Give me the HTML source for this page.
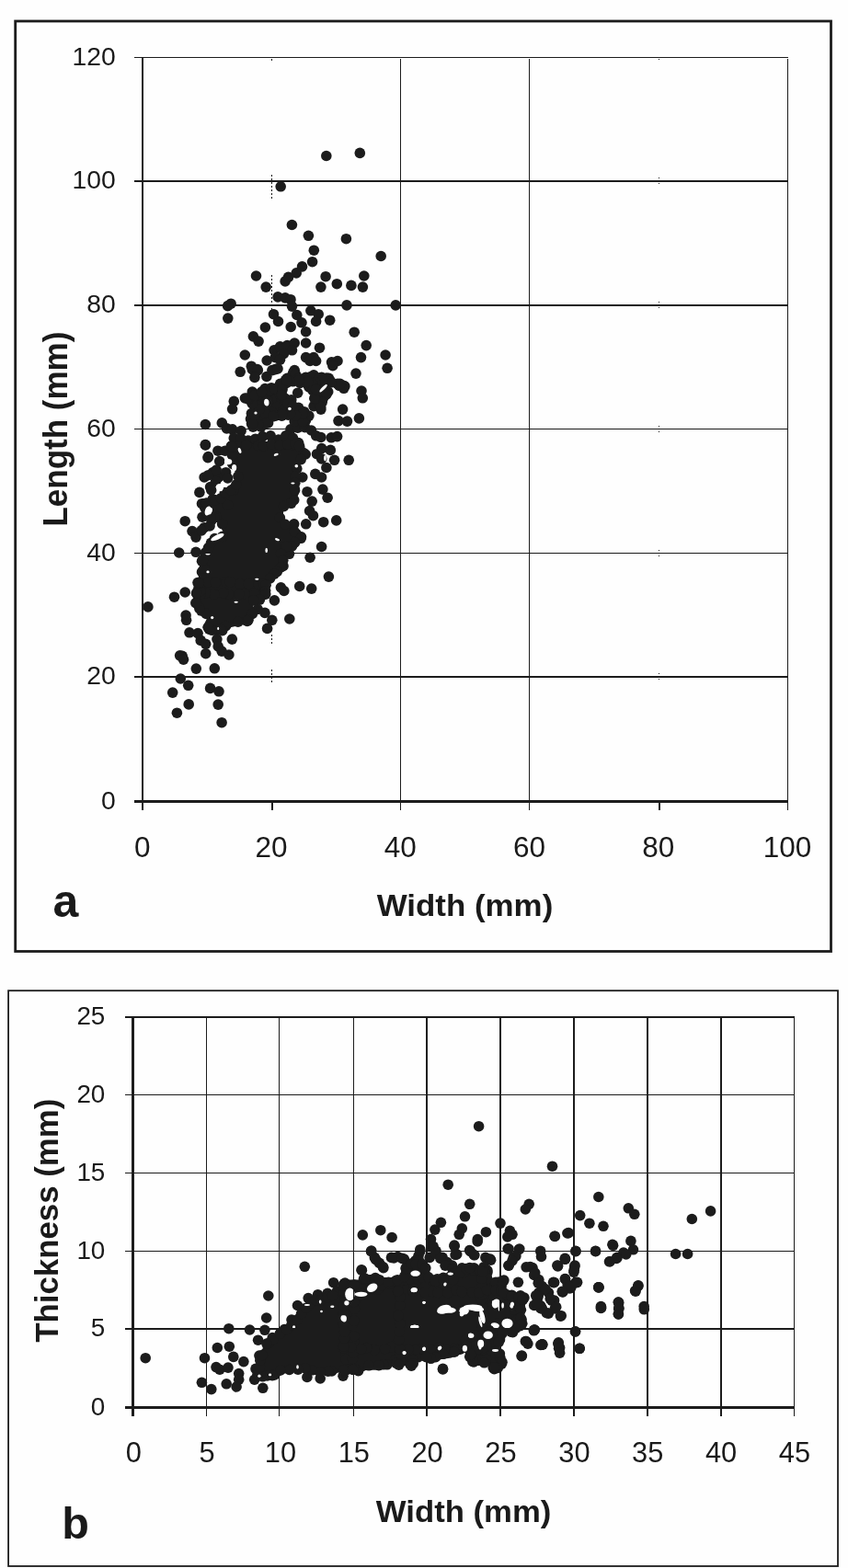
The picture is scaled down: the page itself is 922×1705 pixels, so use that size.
<!DOCTYPE html><html><head><meta charset="utf-8"><title>Scatter plots</title>
<style>html,body{margin:0;padding:0;background:#fff}svg{display:block}text{font-family:"Liberation Sans",sans-serif;fill:#1a1a1a}</style></head><body>
<svg width="922" height="1705" viewBox="0 0 922 1705">
<rect width="922" height="1705" fill="#fefefe"/>
<rect x="16.7" y="23" width="886.8" height="1011.5" fill="none" stroke="#1c1c1c" stroke-width="2.8"/>
<rect x="9.1" y="1077.2" width="901.9" height="625.8" fill="none" stroke="#1c1c1c" stroke-width="1.8"/>
<g fill="#1c1c1c">
<polygon points="248.1,480.0 326.2,480.0 336.6,493.0 326.2,506.0 323.6,521.6 326.2,532.1 321.0,547.7 308.0,555.5 308.0,565.9 326.2,576.3 331.4,584.1 323.6,594.5 310.6,599.7 310.6,615.4 302.8,625.8 292.3,633.6 289.7,650.0 211.6,650.0 214.3,636.2 216.9,620.6 216.9,604.9 222.1,594.5 229.9,584.1 242.9,578.9 237.7,568.5 222.1,563.3 216.9,552.9 219.5,542.5 235.1,539.9 245.5,532.1 255.9,521.6 255.9,513.8 250.7,503.4 248.1,490.4"/>
<polygon points="212.5,630.0 293.2,630.0 293.2,645.6 285.4,656.0 274.9,658.6 277.5,669.0 272.3,679.5 261.9,679.5 251.5,682.1 241.1,689.9 228.1,689.9 220.3,682.1 225.5,671.6 215.1,669.0 209.9,658.6 209.9,640.4"/>
<polygon points="307.1,410.7 317.5,401.6 325.4,405.5 330.6,409.4 339.7,405.5 346.2,407.6 359.2,408.9 367.0,414.6 376.1,419.0 377.4,422.4 372.2,423.2 361.8,421.1 356.6,417.2 346.2,417.2 343.6,420.6 335.8,420.6 330.6,418.5 320.2,417.2 312.3,419.8 307.1,417.2"/>
<polygon points="337.1,421.1 346.2,419.8 357.9,421.1 358.7,428.9 352.7,434.1 353.5,441.9 348.3,446.6 341.0,442.5 337.1,434.1 340.5,426.8"/>
<polygon points="287.6,421.1 304.5,418.5 311.0,421.1 311.8,434.1 317.5,437.2 330.0,442.5 334.5,447.7 333.2,451.8 325.4,456.2 312.3,451.8 304.5,454.4 294.1,459.6 288.9,464.1 277.2,466.7 270.2,464.1 270.2,452.9 277.2,446.4 267.6,438.8 262.9,432.8 272.0,426.3"/>
</g>
<g fill="#1c1c1c">
<circle cx="354.8" cy="169.5" r="5.8"/>
<circle cx="391.3" cy="166.4" r="5.8"/>
<circle cx="305.2" cy="202.8" r="5.8"/>
<circle cx="317.4" cy="244.5" r="5.8"/>
<circle cx="335.4" cy="256.3" r="5.8"/>
<circle cx="376.4" cy="259.7" r="5.8"/>
<circle cx="341.3" cy="272.2" r="5.8"/>
<circle cx="414.2" cy="278.5" r="5.8"/>
<circle cx="339.6" cy="284.7" r="5.8"/>
<circle cx="328.5" cy="289.9" r="5.8"/>
<circle cx="322.2" cy="296.9" r="5.8"/>
<circle cx="313.5" cy="301.4" r="5.8"/>
<circle cx="310.1" cy="305.9" r="5.8"/>
<circle cx="278.5" cy="300.0" r="5.8"/>
<circle cx="289.2" cy="312.1" r="5.8"/>
<circle cx="354.1" cy="300.7" r="5.8"/>
<circle cx="366.3" cy="308.7" r="5.8"/>
<circle cx="348.9" cy="312.1" r="5.8"/>
<circle cx="395.8" cy="300.0" r="5.8"/>
<circle cx="381.9" cy="310.4" r="5.8"/>
<circle cx="394.4" cy="312.1" r="5.8"/>
<circle cx="302.1" cy="322.9" r="5.8"/>
<circle cx="310.1" cy="323.9" r="5.8"/>
<circle cx="316.0" cy="325.7" r="5.8"/>
<circle cx="251.1" cy="330.2" r="5.8"/>
<circle cx="247.6" cy="332.6" r="5.8"/>
<circle cx="377.0" cy="331.9" r="5.8"/>
<circle cx="430.2" cy="331.9" r="5.8"/>
<circle cx="247.8" cy="346.1" r="5.8"/>
<circle cx="297.5" cy="341.7" r="5.8"/>
<circle cx="302.5" cy="349.5" r="5.8"/>
<circle cx="317.5" cy="333.1" r="5.8"/>
<circle cx="322.8" cy="342.5" r="5.8"/>
<circle cx="328.0" cy="350.8" r="5.8"/>
<circle cx="332.6" cy="360.7" r="5.8"/>
<circle cx="316.2" cy="355.5" r="5.8"/>
<circle cx="337.9" cy="337.8" r="5.8"/>
<circle cx="346.2" cy="341.7" r="5.8"/>
<circle cx="343.6" cy="349.5" r="5.8"/>
<circle cx="358.7" cy="348.2" r="5.8"/>
<circle cx="288.4" cy="356.0" r="5.8"/>
<circle cx="385.2" cy="361.2" r="5.8"/>
<circle cx="275.4" cy="365.9" r="5.8"/>
<circle cx="281.1" cy="371.1" r="5.8"/>
<circle cx="332.6" cy="373.0" r="5.8"/>
<circle cx="347.5" cy="378.2" r="5.8"/>
<circle cx="398.2" cy="375.6" r="5.8"/>
<circle cx="419.1" cy="386.0" r="5.8"/>
<circle cx="392.5" cy="388.6" r="5.8"/>
<circle cx="266.3" cy="386.0" r="5.8"/>
<circle cx="298.0" cy="380.8" r="5.8"/>
<circle cx="304.5" cy="376.9" r="5.8"/>
<circle cx="312.3" cy="375.6" r="5.8"/>
<circle cx="320.2" cy="373.0" r="5.8"/>
<circle cx="317.5" cy="380.8" r="5.8"/>
<circle cx="308.4" cy="384.7" r="5.8"/>
<circle cx="299.3" cy="388.6" r="5.8"/>
<circle cx="290.2" cy="392.0" r="5.8"/>
<circle cx="304.5" cy="391.2" r="5.8"/>
<circle cx="332.6" cy="388.6" r="5.8"/>
<circle cx="341.0" cy="388.6" r="5.8"/>
<circle cx="337.1" cy="392.5" r="5.8"/>
<circle cx="343.6" cy="392.5" r="5.8"/>
<circle cx="360.5" cy="393.8" r="5.8"/>
<circle cx="367.0" cy="392.5" r="5.8"/>
<circle cx="361.8" cy="397.7" r="5.8"/>
<circle cx="421.1" cy="400.3" r="5.8"/>
<circle cx="273.3" cy="398.2" r="5.8"/>
<circle cx="279.8" cy="401.6" r="5.8"/>
<circle cx="299.3" cy="401.6" r="5.8"/>
<circle cx="393.0" cy="425.0" r="5.8"/>
<circle cx="394.3" cy="432.8" r="5.8"/>
<circle cx="390.4" cy="454.9" r="5.8"/>
<circle cx="223.3" cy="461.5" r="5.8"/>
<circle cx="223.3" cy="483.6" r="5.8"/>
<circle cx="226.4" cy="496.6" r="5.8"/>
<circle cx="223.4" cy="483.9" r="5.8"/>
<circle cx="226.0" cy="497.7" r="5.8"/>
<circle cx="222.1" cy="519.0" r="5.8"/>
<circle cx="231.2" cy="513.8" r="5.8"/>
<circle cx="237.7" cy="519.0" r="5.8"/>
<circle cx="216.9" cy="535.4" r="5.8"/>
<circle cx="228.6" cy="529.5" r="5.8"/>
<circle cx="219.5" cy="547.7" r="5.8"/>
<circle cx="201.2" cy="566.7" r="5.8"/>
<circle cx="209.0" cy="577.6" r="5.8"/>
<circle cx="213.0" cy="584.1" r="5.8"/>
<circle cx="222.1" cy="573.7" r="5.8"/>
<circle cx="229.9" cy="565.9" r="5.8"/>
<circle cx="194.7" cy="601.0" r="5.8"/>
<circle cx="213.0" cy="600.3" r="5.8"/>
<circle cx="219.5" cy="610.2" r="5.8"/>
<circle cx="219.5" cy="621.9" r="5.8"/>
<circle cx="201.2" cy="644.0" r="5.8"/>
<circle cx="189.5" cy="649.2" r="5.8"/>
<circle cx="349.6" cy="519.0" r="5.8"/>
<circle cx="328.8" cy="519.0" r="5.8"/>
<circle cx="334.0" cy="534.7" r="5.8"/>
<circle cx="350.9" cy="532.1" r="5.8"/>
<circle cx="356.1" cy="541.2" r="5.8"/>
<circle cx="339.2" cy="545.1" r="5.8"/>
<circle cx="336.6" cy="555.5" r="5.8"/>
<circle cx="340.5" cy="560.7" r="5.8"/>
<circle cx="332.7" cy="569.8" r="5.8"/>
<circle cx="351.7" cy="567.7" r="5.8"/>
<circle cx="365.7" cy="565.9" r="5.8"/>
<circle cx="319.7" cy="569.8" r="5.8"/>
<circle cx="326.2" cy="584.1" r="5.8"/>
<circle cx="349.6" cy="594.5" r="5.8"/>
<circle cx="314.5" cy="602.3" r="5.8"/>
<circle cx="337.1" cy="606.2" r="5.8"/>
<circle cx="357.4" cy="627.1" r="5.8"/>
<circle cx="325.7" cy="637.5" r="5.8"/>
<circle cx="338.7" cy="640.1" r="5.8"/>
<circle cx="305.4" cy="638.8" r="5.8"/>
<circle cx="308.0" cy="615.4" r="5.8"/>
<circle cx="160.9" cy="659.9" r="5.8"/>
<circle cx="202.1" cy="669.0" r="5.8"/>
<circle cx="202.6" cy="674.3" r="5.8"/>
<circle cx="206.0" cy="687.8" r="5.8"/>
<circle cx="215.1" cy="688.6" r="5.8"/>
<circle cx="218.2" cy="696.4" r="5.8"/>
<circle cx="223.7" cy="700.3" r="5.8"/>
<circle cx="223.7" cy="710.7" r="5.8"/>
<circle cx="198.2" cy="713.3" r="5.8"/>
<circle cx="195.6" cy="712.8" r="5.8"/>
<circle cx="199.5" cy="717.2" r="5.8"/>
<circle cx="213.3" cy="727.1" r="5.8"/>
<circle cx="233.3" cy="726.8" r="5.8"/>
<circle cx="196.3" cy="738.0" r="5.8"/>
<circle cx="204.7" cy="745.3" r="5.8"/>
<circle cx="187.7" cy="753.1" r="5.8"/>
<circle cx="228.6" cy="748.4" r="5.8"/>
<circle cx="238.0" cy="751.8" r="5.8"/>
<circle cx="205.2" cy="765.9" r="5.8"/>
<circle cx="237.2" cy="766.1" r="5.8"/>
<circle cx="192.4" cy="775.2" r="5.8"/>
<circle cx="241.1" cy="785.7" r="5.8"/>
<circle cx="252.3" cy="695.1" r="5.8"/>
<circle cx="235.9" cy="695.1" r="5.8"/>
<circle cx="237.2" cy="702.9" r="5.8"/>
<circle cx="241.1" cy="708.1" r="5.8"/>
<circle cx="248.9" cy="712.0" r="5.8"/>
<circle cx="290.6" cy="683.4" r="5.8"/>
<circle cx="295.8" cy="674.3" r="5.8"/>
<circle cx="288.0" cy="666.4" r="5.8"/>
<circle cx="280.2" cy="662.5" r="5.8"/>
<circle cx="314.8" cy="673.0" r="5.8"/>
<circle cx="298.4" cy="652.9" r="5.8"/>
<circle cx="308.8" cy="642.5" r="5.8"/>
<circle cx="261.2" cy="404.3" r="5.8"/>
<circle cx="274.3" cy="401.7" r="5.8"/>
<circle cx="280.3" cy="402.6" r="5.8"/>
<circle cx="276.9" cy="410.4" r="5.8"/>
<circle cx="289.9" cy="409.5" r="5.8"/>
<circle cx="295.9" cy="402.6" r="5.8"/>
<circle cx="302.0" cy="400.9" r="5.8"/>
<circle cx="320.2" cy="402.6" r="5.8"/>
<circle cx="322.0" cy="408.7" r="5.8"/>
<circle cx="341.1" cy="407.8" r="5.8"/>
<circle cx="349.7" cy="410.4" r="5.8"/>
<circle cx="357.5" cy="411.3" r="5.8"/>
<circle cx="337.6" cy="413.9" r="5.8"/>
<circle cx="387.0" cy="406.1" r="5.8"/>
<circle cx="311.6" cy="416.5" r="5.8"/>
<circle cx="318.5" cy="414.8" r="5.8"/>
<circle cx="326.3" cy="416.5" r="5.8"/>
<circle cx="367.1" cy="417.4" r="5.8"/>
<circle cx="374.9" cy="420.0" r="5.8"/>
<circle cx="335.9" cy="420.8" r="5.8"/>
<circle cx="341.1" cy="424.3" r="5.8"/>
<circle cx="356.7" cy="426.0" r="5.8"/>
<circle cx="352.3" cy="431.2" r="5.8"/>
<circle cx="323.7" cy="427.2" r="5.8"/>
<circle cx="288.1" cy="422.6" r="5.8"/>
<circle cx="295.1" cy="421.7" r="5.8"/>
<circle cx="302.0" cy="422.6" r="5.8"/>
<circle cx="299.4" cy="427.8" r="5.8"/>
<circle cx="274.3" cy="426.0" r="5.8"/>
<circle cx="280.3" cy="429.5" r="5.8"/>
<circle cx="266.4" cy="433.0" r="5.8"/>
<circle cx="254.3" cy="436.4" r="5.8"/>
<circle cx="252.6" cy="444.8" r="5.8"/>
<circle cx="275.1" cy="437.3" r="5.8"/>
<circle cx="281.2" cy="441.6" r="5.8"/>
<circle cx="273.4" cy="449.5" r="5.8"/>
<circle cx="299.4" cy="433.8" r="5.8"/>
<circle cx="306.4" cy="435.6" r="5.8"/>
<circle cx="312.4" cy="439.0" r="5.8"/>
<circle cx="301.1" cy="442.5" r="5.8"/>
<circle cx="308.1" cy="446.0" r="5.8"/>
<circle cx="295.9" cy="448.6" r="5.8"/>
<circle cx="287.3" cy="446.0" r="5.8"/>
<circle cx="282.1" cy="452.1" r="5.8"/>
<circle cx="324.6" cy="443.4" r="5.8"/>
<circle cx="330.7" cy="447.7" r="5.8"/>
<circle cx="327.2" cy="453.8" r="5.8"/>
<circle cx="344.5" cy="436.4" r="5.8"/>
<circle cx="350.6" cy="434.7" r="5.8"/>
<circle cx="341.1" cy="441.6" r="5.8"/>
<circle cx="348.9" cy="445.1" r="5.8"/>
<circle cx="372.6" cy="445.1" r="5.8"/>
<circle cx="241.3" cy="459.9" r="5.8"/>
<circle cx="246.5" cy="465.9" r="5.8"/>
<circle cx="252.6" cy="466.8" r="5.8"/>
<circle cx="272.5" cy="455.5" r="5.8"/>
<circle cx="279.5" cy="458.1" r="5.8"/>
<circle cx="287.3" cy="455.5" r="5.8"/>
<circle cx="291.6" cy="459.9" r="5.8"/>
<circle cx="275.1" cy="464.2" r="5.8"/>
<circle cx="283.8" cy="464.2" r="5.8"/>
<circle cx="368.0" cy="457.6" r="5.8"/>
<circle cx="377.5" cy="458.1" r="5.8"/>
<circle cx="262.1" cy="468.5" r="5.8"/>
<circle cx="315.9" cy="466.8" r="5.8"/>
<circle cx="323.7" cy="465.1" r="5.8"/>
<circle cx="331.5" cy="464.6" r="5.8"/>
<circle cx="338.5" cy="468.0" r="5.8"/>
<circle cx="343.7" cy="473.8" r="5.8"/>
<circle cx="348.9" cy="475.5" r="5.8"/>
<circle cx="360.2" cy="475.8" r="5.8"/>
<circle cx="366.6" cy="474.6" r="5.8"/>
<circle cx="254.3" cy="476.4" r="5.8"/>
<circle cx="262.1" cy="477.2" r="5.8"/>
<circle cx="269.9" cy="479.0" r="5.8"/>
<circle cx="277.7" cy="477.2" r="5.8"/>
<circle cx="285.5" cy="474.6" r="5.8"/>
<circle cx="294.2" cy="473.8" r="5.8"/>
<circle cx="302.9" cy="478.1" r="5.8"/>
<circle cx="310.7" cy="473.8" r="5.8"/>
<circle cx="318.5" cy="476.4" r="5.8"/>
<circle cx="310.7" cy="482.4" r="5.8"/>
<circle cx="319.4" cy="484.2" r="5.8"/>
<circle cx="324.6" cy="481.6" r="5.8"/>
<circle cx="236.9" cy="490.2" r="5.8"/>
<circle cx="244.8" cy="490.2" r="5.8"/>
<circle cx="349.7" cy="487.6" r="5.8"/>
<circle cx="359.3" cy="489.4" r="5.8"/>
<circle cx="344.5" cy="493.7" r="5.8"/>
<circle cx="238.7" cy="501.5" r="5.8"/>
<circle cx="235.2" cy="511.1" r="5.8"/>
<circle cx="245.6" cy="513.7" r="5.8"/>
<circle cx="252.6" cy="504.1" r="5.8"/>
<circle cx="349.7" cy="498.9" r="5.8"/>
<circle cx="363.6" cy="500.3" r="5.8"/>
<circle cx="379.2" cy="500.3" r="5.8"/>
<circle cx="354.9" cy="508.5" r="5.8"/>
<circle cx="342.8" cy="515.4" r="5.8"/>
<circle cx="304.6" cy="429.5" r="5.8"/>
<circle cx="309.8" cy="433.0" r="5.8"/>
<circle cx="299.4" cy="452.1" r="5.8"/>
<circle cx="306.4" cy="452.1" r="5.8"/>
<circle cx="313.3" cy="451.2" r="5.8"/>
<circle cx="316.8" cy="443.4" r="5.8"/>
<circle cx="320.2" cy="450.3" r="5.8"/>
<circle cx="289.0" cy="450.3" r="5.8"/>
<circle cx="282.1" cy="445.1" r="5.8"/>
<circle cx="285.5" cy="462.5" r="5.8"/>
<circle cx="334.1" cy="417.4" r="5.8"/>
<circle cx="332.4" cy="410.4" r="5.8"/>
<circle cx="348.0" cy="417.4" r="5.8"/>
<circle cx="316.8" cy="434.7" r="5.8"/>
<circle cx="304.6" cy="417.4" r="5.8"/>
<circle cx="292.5" cy="434.7" r="4.0"/>
<circle cx="332.4" cy="457.3" r="5.8"/>
<circle cx="335.9" cy="452.1" r="5.8"/>
<circle cx="320.2" cy="458.1" r="5.8"/>
<circle cx="329.3" cy="458.1" r="5.8"/>
<circle cx="234.6" cy="523.2" r="5.8"/>
<circle cx="244.4" cy="535.5" r="5.8"/>
<circle cx="231.3" cy="542.7" r="5.8"/>
<circle cx="223.2" cy="549.2" r="5.8"/>
<circle cx="220.0" cy="562.2" r="5.8"/>
<circle cx="228.1" cy="572.0" r="5.8"/>
<circle cx="219.0" cy="576.9" r="5.8"/>
<circle cx="235.2" cy="562.2" r="5.8"/>
<circle cx="247.6" cy="549.2" r="5.8"/>
<circle cx="247.6" cy="519.9" r="5.8"/>
<circle cx="226.5" cy="516.7" r="5.8"/>
<circle cx="254.1" cy="532.9" r="5.8"/>
<circle cx="229.7" cy="532.9" r="5.8"/>
<circle cx="251.3" cy="485.2" r="5.8"/>
<circle cx="258.9" cy="485.4" r="5.8"/>
<circle cx="267.7" cy="484.0" r="5.8"/>
<circle cx="280.7" cy="484.5" r="5.8"/>
<circle cx="286.5" cy="484.7" r="5.8"/>
<circle cx="295.1" cy="483.2" r="5.8"/>
<circle cx="304.0" cy="483.8" r="5.8"/>
<circle cx="312.8" cy="483.1" r="5.8"/>
<circle cx="320.9" cy="483.0" r="5.8"/>
<circle cx="325.6" cy="485.2" r="5.8"/>
<circle cx="330.5" cy="492.9" r="5.8"/>
<circle cx="332.2" cy="494.0" r="5.8"/>
<circle cx="327.2" cy="499.6" r="5.8"/>
<circle cx="322.8" cy="509.7" r="5.8"/>
<circle cx="320.8" cy="518.3" r="5.8"/>
<circle cx="320.8" cy="525.2" r="5.8"/>
<circle cx="320.5" cy="533.2" r="5.8"/>
<circle cx="319.7" cy="543.7" r="5.8"/>
<circle cx="316.6" cy="547.3" r="5.8"/>
<circle cx="308.5" cy="550.6" r="5.8"/>
<circle cx="304.4" cy="563.0" r="5.8"/>
<circle cx="309.9" cy="570.0" r="5.8"/>
<circle cx="320.0" cy="577.8" r="5.8"/>
<circle cx="327.5" cy="583.8" r="5.8"/>
<circle cx="327.2" cy="585.3" r="5.8"/>
<circle cx="320.6" cy="590.0" r="5.8"/>
<circle cx="317.5" cy="593.8" r="5.8"/>
<circle cx="311.3" cy="594.4" r="5.8"/>
<circle cx="305.5" cy="602.2" r="5.8"/>
<circle cx="307.8" cy="609.3" r="5.8"/>
<circle cx="305.4" cy="616.8" r="5.8"/>
<circle cx="301.3" cy="621.6" r="5.8"/>
<circle cx="298.2" cy="624.2" r="5.8"/>
<circle cx="293.6" cy="629.0" r="5.8"/>
<circle cx="287.1" cy="634.9" r="5.8"/>
<circle cx="286.1" cy="646.5" r="5.8"/>
<circle cx="285.6" cy="646.1" r="5.8"/>
<circle cx="276.5" cy="645.5" r="5.8"/>
<circle cx="265.6" cy="645.5" r="5.8"/>
<circle cx="259.9" cy="646.0" r="5.8"/>
<circle cx="248.4" cy="645.9" r="5.8"/>
<circle cx="242.7" cy="644.8" r="5.8"/>
<circle cx="232.6" cy="646.2" r="5.8"/>
<circle cx="223.1" cy="644.8" r="5.8"/>
<circle cx="214.0" cy="645.7" r="5.8"/>
<circle cx="217.9" cy="646.1" r="5.8"/>
<circle cx="217.8" cy="642.4" r="5.8"/>
<circle cx="217.9" cy="633.8" r="5.8"/>
<circle cx="221.4" cy="623.8" r="5.8"/>
<circle cx="221.9" cy="618.3" r="5.8"/>
<circle cx="220.4" cy="609.4" r="5.8"/>
<circle cx="223.1" cy="601.1" r="5.8"/>
<circle cx="226.5" cy="595.7" r="5.8"/>
<circle cx="229.5" cy="590.3" r="5.8"/>
<circle cx="233.4" cy="585.6" r="5.8"/>
<circle cx="241.9" cy="583.4" r="5.8"/>
<circle cx="241.6" cy="569.6" r="5.8"/>
<circle cx="232.7" cy="562.9" r="5.8"/>
<circle cx="229.2" cy="562.5" r="5.8"/>
<circle cx="225.0" cy="557.6" r="5.8"/>
<circle cx="223.7" cy="547.3" r="5.8"/>
<circle cx="224.5" cy="547.2" r="5.8"/>
<circle cx="233.8" cy="543.7" r="5.8"/>
<circle cx="240.3" cy="541.7" r="5.8"/>
<circle cx="245.1" cy="536.1" r="5.8"/>
<circle cx="251.3" cy="533.0" r="5.8"/>
<circle cx="256.9" cy="526.9" r="5.8"/>
<circle cx="258.9" cy="517.8" r="5.8"/>
<circle cx="255.2" cy="505.6" r="5.8"/>
<circle cx="253.4" cy="501.5" r="5.8"/>
<circle cx="252.4" cy="494.6" r="5.8"/>
<circle cx="252.2" cy="485.6" r="5.8"/>
<circle cx="215.0" cy="633.6" r="5.8"/>
<circle cx="226.4" cy="632.8" r="5.8"/>
<circle cx="234.2" cy="633.3" r="5.8"/>
<circle cx="245.9" cy="633.1" r="5.8"/>
<circle cx="250.3" cy="632.7" r="5.8"/>
<circle cx="261.0" cy="635.1" r="5.8"/>
<circle cx="270.3" cy="634.8" r="5.8"/>
<circle cx="281.0" cy="635.1" r="5.8"/>
<circle cx="286.6" cy="634.7" r="5.8"/>
<circle cx="289.1" cy="636.2" r="5.8"/>
<circle cx="288.7" cy="642.7" r="5.8"/>
<circle cx="288.8" cy="646.1" r="5.8"/>
<circle cx="282.4" cy="652.1" r="5.8"/>
<circle cx="275.8" cy="652.9" r="5.8"/>
<circle cx="274.4" cy="667.4" r="5.8"/>
<circle cx="270.0" cy="674.2" r="5.8"/>
<circle cx="268.8" cy="675.4" r="5.8"/>
<circle cx="258.8" cy="676.2" r="5.8"/>
<circle cx="245.5" cy="680.6" r="5.8"/>
<circle cx="241.7" cy="685.7" r="5.8"/>
<circle cx="239.7" cy="684.4" r="5.8"/>
<circle cx="230.5" cy="685.3" r="5.8"/>
<circle cx="227.4" cy="684.2" r="5.8"/>
<circle cx="226.2" cy="682.2" r="5.8"/>
<circle cx="224.2" cy="667.4" r="5.8"/>
<circle cx="216.8" cy="661.6" r="5.8"/>
<circle cx="212.8" cy="655.7" r="5.8"/>
<circle cx="213.5" cy="644.9" r="5.8"/>
<circle cx="216.3" cy="634.0" r="5.8"/>
<circle cx="312.3" cy="411.3" r="5.8"/>
<circle cx="318.7" cy="405.3" r="5.8"/>
<circle cx="321.0" cy="406.3" r="5.8"/>
<circle cx="324.8" cy="411.5" r="5.8"/>
<circle cx="337.4" cy="409.8" r="5.8"/>
<circle cx="342.3" cy="409.8" r="5.8"/>
<circle cx="347.3" cy="411.1" r="5.8"/>
<circle cx="355.1" cy="411.1" r="5.8"/>
<circle cx="359.4" cy="414.6" r="5.8"/>
<circle cx="368.9" cy="419.5" r="5.8"/>
<circle cx="373.8" cy="422.3" r="5.8"/>
<circle cx="374.1" cy="419.6" r="5.8"/>
<circle cx="369.7" cy="417.4" r="5.8"/>
<circle cx="360.1" cy="415.9" r="5.8"/>
<circle cx="351.1" cy="412.9" r="5.8"/>
<circle cx="343.0" cy="416.2" r="5.8"/>
<circle cx="340.1" cy="417.6" r="5.8"/>
<circle cx="334.6" cy="415.4" r="5.8"/>
<circle cx="324.8" cy="413.9" r="5.8"/>
<circle cx="314.5" cy="413.9" r="5.8"/>
<circle cx="310.5" cy="413.4" r="5.8"/>
<circle cx="311.8" cy="413.6" r="5.8"/>
<circle cx="340.1" cy="424.6" r="5.8"/>
<circle cx="353.4" cy="423.2" r="5.8"/>
<circle cx="354.7" cy="427.3" r="5.8"/>
<circle cx="354.9" cy="428.8" r="5.8"/>
<circle cx="350.1" cy="437.4" r="5.8"/>
<circle cx="348.5" cy="442.9" r="5.8"/>
<circle cx="348.5" cy="442.2" r="5.8"/>
<circle cx="342.7" cy="433.6" r="5.8"/>
<circle cx="341.8" cy="433.2" r="5.8"/>
<circle cx="343.5" cy="423.4" r="5.8"/>
<circle cx="293.5" cy="423.9" r="5.8"/>
<circle cx="298.7" cy="422.5" r="5.8"/>
<circle cx="306.9" cy="422.8" r="5.8"/>
<circle cx="306.9" cy="423.8" r="5.8"/>
<circle cx="306.4" cy="429.5" r="5.8"/>
<circle cx="313.1" cy="438.9" r="5.8"/>
<circle cx="318.4" cy="441.6" r="5.8"/>
<circle cx="326.6" cy="446.9" r="5.8"/>
<circle cx="330.1" cy="449.4" r="5.8"/>
<circle cx="330.5" cy="449.7" r="5.8"/>
<circle cx="328.9" cy="450.1" r="5.8"/>
<circle cx="321.6" cy="451.8" r="5.8"/>
<circle cx="315.5" cy="450.1" r="5.8"/>
<circle cx="306.6" cy="450.6" r="5.8"/>
<circle cx="296.7" cy="452.9" r="5.8"/>
<circle cx="288.9" cy="460.3" r="5.8"/>
<circle cx="280.9" cy="461.9" r="5.8"/>
<circle cx="273.5" cy="460.7" r="5.8"/>
<circle cx="274.6" cy="460.3" r="5.8"/>
<circle cx="276.7" cy="451.1" r="5.8"/>
<circle cx="274.2" cy="438.9" r="5.8"/>
<circle cx="270.0" cy="434.0" r="5.8"/>
<circle cx="268.9" cy="433.0" r="5.8"/>
<circle cx="276.7" cy="429.9" r="5.8"/>
<circle cx="284.5" cy="426.0" r="5.8"/>
</g>
<g fill="#fefefe">
<ellipse cx="260.6" cy="489.9" rx="1.6" ry="3.1" transform="rotate(-20 260.6 489.9)"/>
<ellipse cx="300.2" cy="494.3" rx="2.6" ry="1.3" transform="rotate(-20 300.2 494.3)"/>
<ellipse cx="239.0" cy="529.5" rx="4.2" ry="3.6"/>
<ellipse cx="248.1" cy="502.1" rx="4.2" ry="3.1"/>
<ellipse cx="254.6" cy="508.6" rx="2.6" ry="3.6"/>
<ellipse cx="226.0" cy="555.5" rx="3.1" ry="5.2" transform="rotate(20 226.0 555.5)"/>
<ellipse cx="236.4" cy="584.1" rx="7.8" ry="2.6" transform="rotate(-25 236.4 584.1)"/>
<ellipse cx="301.5" cy="586.7" rx="2.6" ry="1.3" transform="rotate(20 301.5 586.7)"/>
<ellipse cx="289.7" cy="598.4" rx="1.3" ry="2.6"/>
<ellipse cx="226.0" cy="602.3" rx="2.6" ry="1.3"/>
<ellipse cx="226.0" cy="621.9" rx="1.6" ry="1.3"/>
<ellipse cx="279.3" cy="629.7" rx="2.1" ry="1.0"/>
<ellipse cx="297.5" cy="643.5" rx="3.1" ry="1.6"/>
<ellipse cx="322.3" cy="506.8" rx="1.8" ry="1.8"/>
<ellipse cx="353.5" cy="498.2" rx="1.3" ry="3.1"/>
<ellipse cx="318.4" cy="525.6" rx="2.1" ry="1.0"/>
<ellipse cx="230.7" cy="671.6" rx="1.6" ry="1.6"/>
<ellipse cx="256.7" cy="654.7" rx="2.1" ry="1.0"/>
<ellipse cx="237.2" cy="683.4" rx="1.0" ry="1.6"/>
<ellipse cx="290.2" cy="438.0" rx="2.3" ry="3.4"/>
<ellipse cx="314.9" cy="444.5" rx="1.8" ry="1.8"/>
<ellipse cx="278.0" cy="449.0" rx="1.6" ry="1.6"/>
<ellipse cx="239.5" cy="531.3" rx="2.9" ry="2.9"/>
<ellipse cx="228.1" cy="555.7" rx="2.6" ry="3.9" transform="rotate(20 228.1 555.7)"/>
<ellipse cx="351.6" cy="422.2" rx="5.6" ry="1.6" transform="rotate(-45 351.6 422.2)"/>
<ellipse cx="289.5" cy="437.3" rx="2.4" ry="3.5"/>
</g>
<g fill="#1c1c1c">
<polygon points="285.8,1458.5 306.6,1445.5 317.0,1435.1 327.4,1422.1 337.8,1411.6 358.7,1406.4 380.0,1398.6 380.0,1492.3 369.1,1492.3 358.7,1494.9 343.0,1494.9 327.4,1492.3 311.8,1492.3 301.4,1497.5 288.4,1500.2 278.0,1497.5 275.4,1489.7 280.6,1481.9 278.0,1474.1 285.8,1466.3"/>
<polygon points="380.0,1411.6 390.4,1403.8 411.2,1396.0 432.1,1388.2 447.7,1385.6 465.9,1385.6 478.9,1388.2 491.9,1380.4 510.2,1377.8 533.6,1377.8 533.6,1403.8 541.4,1406.4 546.6,1403.8 562.2,1406.4 570.0,1411.6 567.4,1422.1 559.6,1429.9 570.0,1437.7 567.4,1445.5 557.0,1450.7 546.6,1448.1 536.2,1445.5 528.4,1445.5 520.6,1453.3 510.2,1458.5 502.3,1463.7 497.1,1471.5 484.1,1474.1 465.9,1476.7 452.9,1479.3 450.3,1487.1 439.9,1484.5 426.9,1484.5 413.8,1489.7 398.2,1489.7 387.8,1494.9 380.0,1492.3"/>
<polygon points="370.0,1391.6 390.8,1391.6 394.3,1386.4 411.6,1385.6 416.9,1389.0 434.2,1389.0 438.5,1374.3 448.1,1370.0 462.0,1370.8 466.3,1379.5 469.8,1390.8 481.1,1387.3 488.0,1389.0 494.9,1383.0 498.4,1377.8 508.8,1375.2 521.0,1378.6 530.0,1376.0 530.0,1470.1 370.0,1470.1"/>
<polygon points="520.0,1377.8 530.4,1379.5 535.6,1389.9 542.6,1388.2 549.5,1388.2 551.2,1395.1 547.8,1402.1 554.7,1405.5 568.6,1405.5 572.1,1410.7 570.3,1419.4 570.3,1431.6 572.1,1438.5 566.9,1445.4 558.2,1452.4 551.2,1448.9 546.0,1443.7 537.4,1444.6 530.4,1447.2 523.5,1445.4 520.0,1443.7"/>
<polygon points="430.0,1400.0 549.7,1400.0 551.5,1405.2 568.8,1405.2 573.2,1410.4 570.6,1420.8 568.8,1429.5 572.3,1438.2 568.8,1445.1 558.4,1452.1 551.5,1450.3 548.0,1453.8 548.0,1459.0 542.8,1465.9 548.0,1474.6 549.7,1485.0 542.8,1492.0 534.1,1491.1 530.7,1485.0 513.3,1484.2 506.4,1478.1 506.4,1471.1 509.8,1465.9 499.4,1465.9 497.7,1472.9 490.7,1476.4 480.3,1478.1 464.7,1481.6 454.3,1478.1 452.6,1485.0 445.6,1488.5 442.1,1485.0 433.5,1485.0 430.0,1486.8"/>
</g>
<g fill="#1c1c1c">
<circle cx="158.2" cy="1476.7" r="5.8"/>
<circle cx="248.8" cy="1444.7" r="5.8"/>
<circle cx="271.5" cy="1446.0" r="5.8"/>
<circle cx="287.9" cy="1446.3" r="5.8"/>
<circle cx="289.7" cy="1433.0" r="5.8"/>
<circle cx="291.8" cy="1409.0" r="5.8"/>
<circle cx="331.3" cy="1377.3" r="5.8"/>
<circle cx="236.3" cy="1465.5" r="5.8"/>
<circle cx="249.3" cy="1464.2" r="5.8"/>
<circle cx="222.5" cy="1476.7" r="5.8"/>
<circle cx="253.8" cy="1475.4" r="5.8"/>
<circle cx="264.9" cy="1480.6" r="5.8"/>
<circle cx="235.0" cy="1486.6" r="5.8"/>
<circle cx="238.9" cy="1489.2" r="5.8"/>
<circle cx="248.0" cy="1487.1" r="5.8"/>
<circle cx="259.7" cy="1493.6" r="5.8"/>
<circle cx="259.7" cy="1500.2" r="5.8"/>
<circle cx="219.4" cy="1503.3" r="5.8"/>
<circle cx="229.8" cy="1510.6" r="5.8"/>
<circle cx="246.2" cy="1504.8" r="5.8"/>
<circle cx="257.1" cy="1508.0" r="5.8"/>
<circle cx="280.6" cy="1457.2" r="5.8"/>
<circle cx="296.2" cy="1454.6" r="5.8"/>
<circle cx="278.0" cy="1488.4" r="5.8"/>
<circle cx="276.7" cy="1500.2" r="5.8"/>
<circle cx="285.8" cy="1509.3" r="5.8"/>
<circle cx="281.9" cy="1474.1" r="5.8"/>
<circle cx="362.6" cy="1394.7" r="5.8"/>
<circle cx="374.3" cy="1396.0" r="5.8"/>
<circle cx="323.5" cy="1419.5" r="5.8"/>
<circle cx="335.2" cy="1411.6" r="5.8"/>
<circle cx="345.6" cy="1407.7" r="5.8"/>
<circle cx="356.1" cy="1406.4" r="5.8"/>
<circle cx="366.5" cy="1403.8" r="5.8"/>
<circle cx="309.2" cy="1445.5" r="5.8"/>
<circle cx="317.0" cy="1435.1" r="5.8"/>
<circle cx="298.8" cy="1494.9" r="5.8"/>
<circle cx="333.9" cy="1497.5" r="5.8"/>
<circle cx="348.2" cy="1498.9" r="5.8"/>
<circle cx="373.0" cy="1496.2" r="5.8"/>
<circle cx="515.4" cy="1463.7" r="5.8"/>
<circle cx="512.8" cy="1474.1" r="5.8"/>
<circle cx="520.6" cy="1479.3" r="5.8"/>
<circle cx="531.0" cy="1461.1" r="5.8"/>
<circle cx="536.2" cy="1455.9" r="5.8"/>
<circle cx="544.0" cy="1453.3" r="5.8"/>
<circle cx="538.8" cy="1471.5" r="5.8"/>
<circle cx="544.0" cy="1476.7" r="5.8"/>
<circle cx="536.2" cy="1487.1" r="5.8"/>
<circle cx="545.3" cy="1483.2" r="5.8"/>
<circle cx="528.4" cy="1478.0" r="5.8"/>
<circle cx="481.5" cy="1488.4" r="5.8"/>
<circle cx="580.4" cy="1446.8" r="5.8"/>
<circle cx="571.3" cy="1458.5" r="5.8"/>
<circle cx="573.9" cy="1461.1" r="5.8"/>
<circle cx="589.5" cy="1461.9" r="5.8"/>
<circle cx="567.4" cy="1474.1" r="5.8"/>
<circle cx="403.8" cy="1360.1" r="5.8"/>
<circle cx="407.3" cy="1367.4" r="5.8"/>
<circle cx="412.5" cy="1373.4" r="5.8"/>
<circle cx="416.9" cy="1378.6" r="5.8"/>
<circle cx="393.4" cy="1381.2" r="5.8"/>
<circle cx="425.5" cy="1367.4" r="5.8"/>
<circle cx="432.5" cy="1366.5" r="5.8"/>
<circle cx="439.4" cy="1369.1" r="5.8"/>
<circle cx="456.8" cy="1358.7" r="5.8"/>
<circle cx="455.0" cy="1365.6" r="5.8"/>
<circle cx="451.6" cy="1370.8" r="5.8"/>
<circle cx="468.9" cy="1355.2" r="5.8"/>
<circle cx="474.1" cy="1360.4" r="5.8"/>
<circle cx="467.2" cy="1367.4" r="5.8"/>
<circle cx="481.1" cy="1367.4" r="5.8"/>
<circle cx="486.3" cy="1372.6" r="5.8"/>
<circle cx="491.5" cy="1376.0" r="5.8"/>
<circle cx="494.1" cy="1355.2" r="5.8"/>
<circle cx="496.7" cy="1363.9" r="5.8"/>
<circle cx="510.6" cy="1359.5" r="5.8"/>
<circle cx="515.8" cy="1364.8" r="5.8"/>
<circle cx="519.2" cy="1350.0" r="5.8"/>
<circle cx="527.9" cy="1367.4" r="5.8"/>
<circle cx="533.0" cy="1369.1" r="5.8"/>
<circle cx="552.1" cy="1357.8" r="5.8"/>
<circle cx="564.3" cy="1358.7" r="5.8"/>
<circle cx="558.2" cy="1367.4" r="5.8"/>
<circle cx="553.0" cy="1376.0" r="5.8"/>
<circle cx="587.7" cy="1360.4" r="5.8"/>
<circle cx="588.5" cy="1366.5" r="5.8"/>
<circle cx="614.6" cy="1369.1" r="5.8"/>
<circle cx="605.9" cy="1376.0" r="5.8"/>
<circle cx="625.9" cy="1360.4" r="5.8"/>
<circle cx="625.0" cy="1376.0" r="5.8"/>
<circle cx="624.1" cy="1381.2" r="5.8"/>
<circle cx="647.5" cy="1360.4" r="5.8"/>
<circle cx="666.6" cy="1354.3" r="5.8"/>
<circle cx="677.9" cy="1362.1" r="5.8"/>
<circle cx="671.0" cy="1367.4" r="5.8"/>
<circle cx="663.2" cy="1371.7" r="5.8"/>
<circle cx="563.4" cy="1394.3" r="5.8"/>
<circle cx="572.1" cy="1377.8" r="5.8"/>
<circle cx="579.0" cy="1378.6" r="5.8"/>
<circle cx="580.7" cy="1386.4" r="5.8"/>
<circle cx="585.9" cy="1391.6" r="5.8"/>
<circle cx="589.4" cy="1398.6" r="5.8"/>
<circle cx="585.9" cy="1405.5" r="5.8"/>
<circle cx="584.2" cy="1412.5" r="5.8"/>
<circle cx="580.7" cy="1419.4" r="5.8"/>
<circle cx="589.4" cy="1422.9" r="5.8"/>
<circle cx="596.4" cy="1428.1" r="5.8"/>
<circle cx="603.3" cy="1422.9" r="5.8"/>
<circle cx="599.8" cy="1414.2" r="5.8"/>
<circle cx="596.4" cy="1405.5" r="5.8"/>
<circle cx="610.2" cy="1430.7" r="5.8"/>
<circle cx="601.6" cy="1394.3" r="5.8"/>
<circle cx="614.6" cy="1390.8" r="5.8"/>
<circle cx="617.2" cy="1396.9" r="5.8"/>
<circle cx="627.6" cy="1394.3" r="5.8"/>
<circle cx="620.7" cy="1400.3" r="5.8"/>
<circle cx="612.0" cy="1404.7" r="5.8"/>
<circle cx="651.0" cy="1399.8" r="5.8"/>
<circle cx="653.6" cy="1422.0" r="5.8"/>
<circle cx="672.7" cy="1416.8" r="5.8"/>
<circle cx="672.7" cy="1422.9" r="5.8"/>
<circle cx="672.4" cy="1429.0" r="5.8"/>
<circle cx="625.5" cy="1448.0" r="5.8"/>
<circle cx="580.7" cy="1446.3" r="5.8"/>
<circle cx="572.1" cy="1458.5" r="5.8"/>
<circle cx="589.4" cy="1461.9" r="5.8"/>
<circle cx="606.8" cy="1461.1" r="5.8"/>
<circle cx="607.6" cy="1466.3" r="5.8"/>
<circle cx="630.2" cy="1466.3" r="5.8"/>
<circle cx="542.6" cy="1453.3" r="5.8"/>
<circle cx="535.6" cy="1459.3" r="5.8"/>
<circle cx="528.7" cy="1462.8" r="5.8"/>
<circle cx="523.5" cy="1450.7" r="5.8"/>
<circle cx="525.2" cy="1468.0" r="5.8"/>
<circle cx="520.6" cy="1224.7" r="5.8"/>
<circle cx="600.5" cy="1268.2" r="5.8"/>
<circle cx="487.2" cy="1288.2" r="5.8"/>
<circle cx="510.7" cy="1309.3" r="5.8"/>
<circle cx="505.5" cy="1322.8" r="5.8"/>
<circle cx="575.2" cy="1309.3" r="5.8"/>
<circle cx="571.3" cy="1315.0" r="5.8"/>
<circle cx="544.0" cy="1330.1" r="5.8"/>
<circle cx="479.4" cy="1329.3" r="5.8"/>
<circle cx="472.9" cy="1337.1" r="5.8"/>
<circle cx="502.3" cy="1335.8" r="5.8"/>
<circle cx="499.2" cy="1342.3" r="5.8"/>
<circle cx="528.4" cy="1339.7" r="5.8"/>
<circle cx="519.3" cy="1347.5" r="5.8"/>
<circle cx="554.4" cy="1338.4" r="5.8"/>
<circle cx="557.0" cy="1342.3" r="5.8"/>
<circle cx="551.8" cy="1344.9" r="5.8"/>
<circle cx="394.3" cy="1342.9" r="5.8"/>
<circle cx="413.8" cy="1337.7" r="5.8"/>
<circle cx="426.1" cy="1345.5" r="5.8"/>
<circle cx="603.3" cy="1344.4" r="5.8"/>
<circle cx="616.9" cy="1341.0" r="5.8"/>
<circle cx="468.5" cy="1347.5" r="5.8"/>
<circle cx="471.1" cy="1355.4" r="5.8"/>
<circle cx="473.7" cy="1363.2" r="5.8"/>
<circle cx="494.0" cy="1354.1" r="5.8"/>
<circle cx="495.1" cy="1364.5" r="5.8"/>
<circle cx="511.5" cy="1360.6" r="5.8"/>
<circle cx="515.4" cy="1364.5" r="5.8"/>
<circle cx="553.1" cy="1358.0" r="5.8"/>
<circle cx="564.8" cy="1358.0" r="5.8"/>
<circle cx="560.9" cy="1365.8" r="5.8"/>
<circle cx="553.1" cy="1376.2" r="5.8"/>
<circle cx="557.0" cy="1371.0" r="5.8"/>
<circle cx="533.6" cy="1370.2" r="5.8"/>
<circle cx="403.4" cy="1360.6" r="5.8"/>
<circle cx="408.6" cy="1369.7" r="5.8"/>
<circle cx="416.4" cy="1377.5" r="5.8"/>
<circle cx="428.2" cy="1367.9" r="5.8"/>
<circle cx="437.3" cy="1368.4" r="5.8"/>
<circle cx="456.8" cy="1360.6" r="5.8"/>
<circle cx="455.5" cy="1371.0" r="5.8"/>
<circle cx="447.7" cy="1374.9" r="5.8"/>
<circle cx="441.2" cy="1378.8" r="5.8"/>
<circle cx="458.1" cy="1380.1" r="5.8"/>
<circle cx="478.9" cy="1368.4" r="5.8"/>
<circle cx="484.1" cy="1376.2" r="5.8"/>
<circle cx="491.9" cy="1380.1" r="5.8"/>
<circle cx="502.3" cy="1378.8" r="5.8"/>
<circle cx="515.4" cy="1378.8" r="5.8"/>
<circle cx="528.4" cy="1380.1" r="5.8"/>
<circle cx="393.0" cy="1380.9" r="5.8"/>
<circle cx="576.5" cy="1377.5" r="5.8"/>
<circle cx="581.7" cy="1384.0" r="5.8"/>
<circle cx="606.5" cy="1376.2" r="5.8"/>
<circle cx="614.3" cy="1368.4" r="5.8"/>
<circle cx="650.8" cy="1301.5" r="5.8"/>
<circle cx="683.3" cy="1313.8" r="5.8"/>
<circle cx="689.8" cy="1320.3" r="5.8"/>
<circle cx="630.7" cy="1321.6" r="5.8"/>
<circle cx="640.9" cy="1330.2" r="5.8"/>
<circle cx="656.0" cy="1333.3" r="5.8"/>
<circle cx="772.6" cy="1316.9" r="5.8"/>
<circle cx="752.3" cy="1325.5" r="5.8"/>
<circle cx="618.2" cy="1340.6" r="5.8"/>
<circle cx="603.1" cy="1344.2" r="5.8"/>
<circle cx="685.9" cy="1349.4" r="5.8"/>
<circle cx="688.5" cy="1358.8" r="5.8"/>
<circle cx="665.9" cy="1353.3" r="5.8"/>
<circle cx="626.0" cy="1360.6" r="5.8"/>
<circle cx="647.6" cy="1360.6" r="5.8"/>
<circle cx="680.7" cy="1364.0" r="5.8"/>
<circle cx="670.3" cy="1368.4" r="5.8"/>
<circle cx="662.5" cy="1371.8" r="5.8"/>
<circle cx="734.6" cy="1363.5" r="5.8"/>
<circle cx="747.6" cy="1363.5" r="5.8"/>
<circle cx="614.3" cy="1369.2" r="5.8"/>
<circle cx="606.5" cy="1377.0" r="5.8"/>
<circle cx="624.7" cy="1377.5" r="5.8"/>
<circle cx="623.9" cy="1383.3" r="5.8"/>
<circle cx="614.3" cy="1390.6" r="5.8"/>
<circle cx="602.6" cy="1394.5" r="5.8"/>
<circle cx="626.0" cy="1394.5" r="5.8"/>
<circle cx="619.5" cy="1401.0" r="5.8"/>
<circle cx="611.7" cy="1404.9" r="5.8"/>
<circle cx="650.8" cy="1399.7" r="5.8"/>
<circle cx="693.7" cy="1398.4" r="5.8"/>
<circle cx="691.1" cy="1404.1" r="5.8"/>
<circle cx="672.4" cy="1416.1" r="5.8"/>
<circle cx="653.4" cy="1420.5" r="5.8"/>
<circle cx="602.6" cy="1414.0" r="5.8"/>
<circle cx="700.2" cy="1420.5" r="5.8"/>
<circle cx="650.8" cy="1399.9" r="5.8"/>
<circle cx="694.0" cy="1397.8" r="5.8"/>
<circle cx="690.6" cy="1403.5" r="5.8"/>
<circle cx="672.4" cy="1416.0" r="5.8"/>
<circle cx="672.9" cy="1422.5" r="5.8"/>
<circle cx="672.4" cy="1429.0" r="5.8"/>
<circle cx="653.4" cy="1422.5" r="5.8"/>
<circle cx="700.3" cy="1423.8" r="5.8"/>
<circle cx="625.6" cy="1447.8" r="5.8"/>
<circle cx="581.3" cy="1446.0" r="5.8"/>
<circle cx="589.9" cy="1462.1" r="5.8"/>
<circle cx="607.3" cy="1459.8" r="5.8"/>
<circle cx="608.6" cy="1465.5" r="5.8"/>
<circle cx="608.6" cy="1471.2" r="5.8"/>
<circle cx="630.2" cy="1466.3" r="5.8"/>
<circle cx="609.4" cy="1431.1" r="5.8"/>
<circle cx="602.1" cy="1394.7" r="5.8"/>
<circle cx="626.9" cy="1394.7" r="5.8"/>
<circle cx="619.0" cy="1399.1" r="5.8"/>
<circle cx="611.2" cy="1404.3" r="5.8"/>
<circle cx="585.2" cy="1395.2" r="5.8"/>
<circle cx="593.0" cy="1401.7" r="5.8"/>
<circle cx="585.2" cy="1409.5" r="5.8"/>
<circle cx="598.2" cy="1412.1" r="5.8"/>
<circle cx="604.7" cy="1421.2" r="5.8"/>
<circle cx="587.8" cy="1419.9" r="5.8"/>
<circle cx="594.3" cy="1427.7" r="5.8"/>
<circle cx="481.5" cy="1488.9" r="5.8"/>
<circle cx="581.0" cy="1446.0" r="5.8"/>
<circle cx="572.3" cy="1459.0" r="5.8"/>
<circle cx="567.1" cy="1474.6" r="5.8"/>
<circle cx="587.9" cy="1462.5" r="5.8"/>
<circle cx="582.7" cy="1408.7" r="5.8"/>
<circle cx="587.9" cy="1422.6" r="5.8"/>
<circle cx="584.4" cy="1417.4" r="5.8"/>
<circle cx="292.2" cy="1460.5" r="5.8"/>
<circle cx="296.6" cy="1456.5" r="5.8"/>
<circle cx="304.3" cy="1450.1" r="5.8"/>
<circle cx="311.8" cy="1445.5" r="5.8"/>
<circle cx="316.8" cy="1441.0" r="5.8"/>
<circle cx="323.3" cy="1435.0" r="5.8"/>
<circle cx="327.6" cy="1428.5" r="5.8"/>
<circle cx="332.7" cy="1422.2" r="5.8"/>
<circle cx="338.2" cy="1416.6" r="5.8"/>
<circle cx="343.2" cy="1413.6" r="5.8"/>
<circle cx="349.0" cy="1413.7" r="5.8"/>
<circle cx="356.0" cy="1410.8" r="5.8"/>
<circle cx="361.6" cy="1408.7" r="5.8"/>
<circle cx="373.3" cy="1406.8" r="5.8"/>
<circle cx="376.4" cy="1404.6" r="5.8"/>
<circle cx="375.8" cy="1400.7" r="5.8"/>
<circle cx="376.2" cy="1412.8" r="5.8"/>
<circle cx="376.8" cy="1418.9" r="5.8"/>
<circle cx="377.1" cy="1430.0" r="5.8"/>
<circle cx="376.9" cy="1436.6" r="5.8"/>
<circle cx="375.8" cy="1442.9" r="5.8"/>
<circle cx="376.3" cy="1452.9" r="5.8"/>
<circle cx="375.7" cy="1460.2" r="5.8"/>
<circle cx="375.8" cy="1470.9" r="5.8"/>
<circle cx="376.3" cy="1478.2" r="5.8"/>
<circle cx="377.1" cy="1489.4" r="5.8"/>
<circle cx="373.7" cy="1489.7" r="5.8"/>
<circle cx="360.8" cy="1491.0" r="5.8"/>
<circle cx="356.7" cy="1491.1" r="5.8"/>
<circle cx="347.8" cy="1491.8" r="5.8"/>
<circle cx="339.5" cy="1489.8" r="5.8"/>
<circle cx="331.7" cy="1487.7" r="5.8"/>
<circle cx="324.0" cy="1489.2" r="5.8"/>
<circle cx="314.6" cy="1489.5" r="5.8"/>
<circle cx="305.0" cy="1489.9" r="5.8"/>
<circle cx="296.1" cy="1495.7" r="5.8"/>
<circle cx="290.5" cy="1495.9" r="5.8"/>
<circle cx="285.5" cy="1496.8" r="5.8"/>
<circle cx="279.9" cy="1494.8" r="5.8"/>
<circle cx="282.4" cy="1486.6" r="5.8"/>
<circle cx="282.8" cy="1479.2" r="5.8"/>
<circle cx="285.2" cy="1473.5" r="5.8"/>
<circle cx="289.9" cy="1461.1" r="5.8"/>
<circle cx="386.2" cy="1413.5" r="5.8"/>
<circle cx="390.5" cy="1408.9" r="5.8"/>
<circle cx="393.7" cy="1407.3" r="5.8"/>
<circle cx="403.9" cy="1402.3" r="5.8"/>
<circle cx="410.8" cy="1401.9" r="5.8"/>
<circle cx="415.2" cy="1397.6" r="5.8"/>
<circle cx="424.3" cy="1396.1" r="5.8"/>
<circle cx="429.9" cy="1392.8" r="5.8"/>
<circle cx="439.1" cy="1392.1" r="5.8"/>
<circle cx="445.8" cy="1390.6" r="5.8"/>
<circle cx="454.7" cy="1390.9" r="5.8"/>
<circle cx="459.4" cy="1389.1" r="5.8"/>
<circle cx="469.1" cy="1391.7" r="5.8"/>
<circle cx="475.4" cy="1390.8" r="5.8"/>
<circle cx="482.0" cy="1389.4" r="5.8"/>
<circle cx="490.2" cy="1387.6" r="5.8"/>
<circle cx="494.5" cy="1383.6" r="5.8"/>
<circle cx="504.7" cy="1383.7" r="5.8"/>
<circle cx="514.0" cy="1380.8" r="5.8"/>
<circle cx="521.7" cy="1381.9" r="5.8"/>
<circle cx="530.0" cy="1381.7" r="5.8"/>
<circle cx="529.8" cy="1384.0" r="5.8"/>
<circle cx="530.5" cy="1393.2" r="5.8"/>
<circle cx="528.9" cy="1400.1" r="5.8"/>
<circle cx="536.9" cy="1410.0" r="5.8"/>
<circle cx="545.9" cy="1409.6" r="5.8"/>
<circle cx="551.4" cy="1408.0" r="5.8"/>
<circle cx="556.4" cy="1408.2" r="5.8"/>
<circle cx="562.2" cy="1412.8" r="5.8"/>
<circle cx="563.8" cy="1416.8" r="5.8"/>
<circle cx="559.9" cy="1424.3" r="5.8"/>
<circle cx="561.6" cy="1435.5" r="5.8"/>
<circle cx="565.7" cy="1440.8" r="5.8"/>
<circle cx="565.6" cy="1441.7" r="5.8"/>
<circle cx="557.6" cy="1445.9" r="5.8"/>
<circle cx="555.1" cy="1444.6" r="5.8"/>
<circle cx="539.6" cy="1441.3" r="5.8"/>
<circle cx="532.2" cy="1441.9" r="5.8"/>
<circle cx="519.6" cy="1449.2" r="5.8"/>
<circle cx="517.1" cy="1452.2" r="5.8"/>
<circle cx="505.7" cy="1457.6" r="5.8"/>
<circle cx="496.2" cy="1467.8" r="5.8"/>
<circle cx="493.4" cy="1467.6" r="5.8"/>
<circle cx="485.7" cy="1469.6" r="5.8"/>
<circle cx="476.7" cy="1472.2" r="5.8"/>
<circle cx="471.0" cy="1471.0" r="5.8"/>
<circle cx="461.1" cy="1472.7" r="5.8"/>
<circle cx="454.4" cy="1475.8" r="5.8"/>
<circle cx="445.8" cy="1483.3" r="5.8"/>
<circle cx="446.9" cy="1482.9" r="5.8"/>
<circle cx="434.9" cy="1482.0" r="5.8"/>
<circle cx="429.5" cy="1479.1" r="5.8"/>
<circle cx="420.9" cy="1483.8" r="5.8"/>
<circle cx="416.8" cy="1483.8" r="5.8"/>
<circle cx="411.9" cy="1484.7" r="5.8"/>
<circle cx="401.0" cy="1484.8" r="5.8"/>
<circle cx="389.6" cy="1490.6" r="5.8"/>
<circle cx="385.6" cy="1488.5" r="5.8"/>
<circle cx="383.7" cy="1489.4" r="5.8"/>
<circle cx="383.4" cy="1477.4" r="5.8"/>
<circle cx="383.9" cy="1470.7" r="5.8"/>
<circle cx="385.0" cy="1459.2" r="5.8"/>
<circle cx="384.8" cy="1452.9" r="5.8"/>
<circle cx="382.7" cy="1440.7" r="5.8"/>
<circle cx="385.0" cy="1436.2" r="5.8"/>
<circle cx="385.3" cy="1423.2" r="5.8"/>
<circle cx="384.6" cy="1415.6" r="5.8"/>
<circle cx="375.1" cy="1395.0" r="5.8"/>
<circle cx="385.1" cy="1397.0" r="5.8"/>
<circle cx="395.5" cy="1390.7" r="5.8"/>
<circle cx="396.8" cy="1390.1" r="5.8"/>
<circle cx="408.1" cy="1389.5" r="5.8"/>
<circle cx="412.6" cy="1391.7" r="5.8"/>
<circle cx="422.4" cy="1394.3" r="5.8"/>
<circle cx="432.1" cy="1391.7" r="5.8"/>
<circle cx="439.5" cy="1388.4" r="5.8"/>
<circle cx="441.4" cy="1379.5" r="5.8"/>
<circle cx="447.2" cy="1374.0" r="5.8"/>
<circle cx="452.1" cy="1374.7" r="5.8"/>
<circle cx="459.0" cy="1374.6" r="5.8"/>
<circle cx="462.8" cy="1378.8" r="5.8"/>
<circle cx="465.9" cy="1388.9" r="5.8"/>
<circle cx="473.2" cy="1393.1" r="5.8"/>
<circle cx="482.2" cy="1392.2" r="5.8"/>
<circle cx="492.8" cy="1391.3" r="5.8"/>
<circle cx="500.1" cy="1383.7" r="5.8"/>
<circle cx="506.9" cy="1379.5" r="5.8"/>
<circle cx="510.9" cy="1378.6" r="5.8"/>
<circle cx="527.0" cy="1381.2" r="5.8"/>
<circle cx="525.8" cy="1377.9" r="5.8"/>
<circle cx="524.8" cy="1390.0" r="5.8"/>
<circle cx="526.8" cy="1398.5" r="5.8"/>
<circle cx="524.5" cy="1407.7" r="5.8"/>
<circle cx="525.2" cy="1414.5" r="5.8"/>
<circle cx="525.2" cy="1421.8" r="5.8"/>
<circle cx="526.4" cy="1429.7" r="5.8"/>
<circle cx="525.3" cy="1439.4" r="5.8"/>
<circle cx="525.8" cy="1446.2" r="5.8"/>
<circle cx="526.8" cy="1458.1" r="5.8"/>
<circle cx="524.7" cy="1463.5" r="5.8"/>
<circle cx="523.7" cy="1466.5" r="5.8"/>
<circle cx="519.5" cy="1466.9" r="5.8"/>
<circle cx="506.8" cy="1465.7" r="5.8"/>
<circle cx="500.2" cy="1467.2" r="5.8"/>
<circle cx="494.4" cy="1465.9" r="5.8"/>
<circle cx="484.3" cy="1466.9" r="5.8"/>
<circle cx="477.3" cy="1465.0" r="5.8"/>
<circle cx="467.6" cy="1467.1" r="5.8"/>
<circle cx="458.8" cy="1466.7" r="5.8"/>
<circle cx="451.6" cy="1467.5" r="5.8"/>
<circle cx="443.7" cy="1467.1" r="5.8"/>
<circle cx="433.4" cy="1465.5" r="5.8"/>
<circle cx="425.9" cy="1464.6" r="5.8"/>
<circle cx="418.6" cy="1466.7" r="5.8"/>
<circle cx="407.0" cy="1467.6" r="5.8"/>
<circle cx="398.6" cy="1465.6" r="5.8"/>
<circle cx="392.6" cy="1466.9" r="5.8"/>
<circle cx="381.9" cy="1464.7" r="5.8"/>
<circle cx="373.6" cy="1465.9" r="5.8"/>
<circle cx="373.6" cy="1464.0" r="5.8"/>
<circle cx="374.5" cy="1454.9" r="5.8"/>
<circle cx="374.7" cy="1448.3" r="5.8"/>
<circle cx="373.4" cy="1439.4" r="5.8"/>
<circle cx="373.5" cy="1428.7" r="5.8"/>
<circle cx="373.6" cy="1419.9" r="5.8"/>
<circle cx="375.2" cy="1411.1" r="5.8"/>
<circle cx="374.4" cy="1404.8" r="5.8"/>
<circle cx="372.9" cy="1397.6" r="5.8"/>
<circle cx="526.6" cy="1383.6" r="5.8"/>
<circle cx="529.5" cy="1389.8" r="5.8"/>
<circle cx="539.0" cy="1394.3" r="5.8"/>
<circle cx="547.9" cy="1392.1" r="5.8"/>
<circle cx="546.8" cy="1393.7" r="5.8"/>
<circle cx="545.1" cy="1398.9" r="5.8"/>
<circle cx="551.0" cy="1408.0" r="5.8"/>
<circle cx="558.0" cy="1410.5" r="5.8"/>
<circle cx="565.9" cy="1408.9" r="5.8"/>
<circle cx="567.5" cy="1411.2" r="5.8"/>
<circle cx="568.5" cy="1413.3" r="5.8"/>
<circle cx="565.2" cy="1422.0" r="5.8"/>
<circle cx="567.1" cy="1434.8" r="5.8"/>
<circle cx="567.8" cy="1439.3" r="5.8"/>
<circle cx="560.6" cy="1444.3" r="5.8"/>
<circle cx="556.1" cy="1448.3" r="5.8"/>
<circle cx="550.9" cy="1442.6" r="5.8"/>
<circle cx="541.2" cy="1439.0" r="5.8"/>
<circle cx="530.4" cy="1441.7" r="5.8"/>
<circle cx="527.3" cy="1443.0" r="5.8"/>
<circle cx="524.3" cy="1441.5" r="5.8"/>
<circle cx="523.8" cy="1440.4" r="5.8"/>
<circle cx="522.8" cy="1430.4" r="5.8"/>
<circle cx="524.5" cy="1421.7" r="5.8"/>
<circle cx="523.4" cy="1413.2" r="5.8"/>
<circle cx="524.4" cy="1407.4" r="5.8"/>
<circle cx="524.4" cy="1398.4" r="5.8"/>
<circle cx="523.8" cy="1390.3" r="5.8"/>
<circle cx="524.9" cy="1382.8" r="5.8"/>
<circle cx="432.6" cy="1404.1" r="5.8"/>
<circle cx="441.4" cy="1402.9" r="5.8"/>
<circle cx="449.0" cy="1404.2" r="5.8"/>
<circle cx="462.0" cy="1405.1" r="5.8"/>
<circle cx="470.3" cy="1404.4" r="5.8"/>
<circle cx="476.3" cy="1405.5" r="5.8"/>
<circle cx="487.2" cy="1405.5" r="5.8"/>
<circle cx="495.7" cy="1402.9" r="5.8"/>
<circle cx="502.3" cy="1404.6" r="5.8"/>
<circle cx="513.5" cy="1404.8" r="5.8"/>
<circle cx="520.7" cy="1405.5" r="5.8"/>
<circle cx="529.5" cy="1402.6" r="5.8"/>
<circle cx="539.3" cy="1403.1" r="5.8"/>
<circle cx="544.8" cy="1403.6" r="5.8"/>
<circle cx="547.1" cy="1405.3" r="5.8"/>
<circle cx="556.2" cy="1409.5" r="5.8"/>
<circle cx="563.9" cy="1410.2" r="5.8"/>
<circle cx="570.0" cy="1411.1" r="5.8"/>
<circle cx="567.8" cy="1413.1" r="5.8"/>
<circle cx="566.4" cy="1424.3" r="5.8"/>
<circle cx="566.0" cy="1433.1" r="5.8"/>
<circle cx="566.3" cy="1440.3" r="5.8"/>
<circle cx="559.7" cy="1444.7" r="5.8"/>
<circle cx="557.5" cy="1448.6" r="5.8"/>
<circle cx="546.4" cy="1449.4" r="5.8"/>
<circle cx="543.5" cy="1456.7" r="5.8"/>
<circle cx="542.1" cy="1459.7" r="5.8"/>
<circle cx="543.4" cy="1472.0" r="5.8"/>
<circle cx="546.0" cy="1481.2" r="5.8"/>
<circle cx="541.2" cy="1487.5" r="5.8"/>
<circle cx="537.4" cy="1488.7" r="5.8"/>
<circle cx="537.9" cy="1486.8" r="5.8"/>
<circle cx="526.5" cy="1481.8" r="5.8"/>
<circle cx="515.2" cy="1481.0" r="5.8"/>
<circle cx="513.8" cy="1480.5" r="5.8"/>
<circle cx="510.7" cy="1475.3" r="5.8"/>
<circle cx="511.7" cy="1472.6" r="5.8"/>
<circle cx="507.0" cy="1463.4" r="5.8"/>
<circle cx="496.2" cy="1468.4" r="5.8"/>
<circle cx="493.9" cy="1470.2" r="5.8"/>
<circle cx="481.7" cy="1472.3" r="5.8"/>
<circle cx="473.6" cy="1475.7" r="5.8"/>
<circle cx="468.4" cy="1477.3" r="5.8"/>
<circle cx="463.5" cy="1475.7" r="5.8"/>
<circle cx="448.8" cy="1478.8" r="5.8"/>
<circle cx="449.2" cy="1482.7" r="5.8"/>
<circle cx="447.3" cy="1485.2" r="5.8"/>
<circle cx="435.4" cy="1479.8" r="5.8"/>
<circle cx="430.8" cy="1482.4" r="5.8"/>
<circle cx="433.7" cy="1484.1" r="5.8"/>
<circle cx="435.3" cy="1471.6" r="5.8"/>
<circle cx="434.6" cy="1466.9" r="5.8"/>
<circle cx="433.6" cy="1456.9" r="5.8"/>
<circle cx="434.1" cy="1447.7" r="5.8"/>
<circle cx="435.0" cy="1439.3" r="5.8"/>
<circle cx="432.8" cy="1430.4" r="5.8"/>
<circle cx="434.8" cy="1419.3" r="5.8"/>
<circle cx="435.0" cy="1410.4" r="5.8"/>
<circle cx="432.7" cy="1403.7" r="5.8"/>
</g>
<g fill="#fefefe">
<ellipse cx="333.9" cy="1418.9" rx="3.1" ry="1.0"/>
<ellipse cx="348.2" cy="1415.6" rx="1.3" ry="2.1"/>
<ellipse cx="361.3" cy="1420.8" rx="2.1" ry="1.3"/>
<ellipse cx="319.6" cy="1442.9" rx="1.6" ry="1.6"/>
<ellipse cx="374.3" cy="1433.8" rx="2.6" ry="3.6"/>
<ellipse cx="349.5" cy="1426.0" rx="1.3" ry="1.3"/>
<ellipse cx="323.5" cy="1486.4" rx="1.3" ry="2.1"/>
<ellipse cx="281.9" cy="1496.2" rx="1.6" ry="1.6"/>
<ellipse cx="293.6" cy="1494.9" rx="1.6" ry="1.3"/>
<ellipse cx="450.3" cy="1402.5" rx="3.6" ry="2.6"/>
<ellipse cx="484.1" cy="1396.0" rx="1.6" ry="1.6"/>
<ellipse cx="460.7" cy="1416.3" rx="1.6" ry="1.6"/>
<ellipse cx="488.0" cy="1424.7" rx="7.8" ry="3.1"/>
<ellipse cx="502.3" cy="1428.6" rx="2.6" ry="2.1"/>
<ellipse cx="450.3" cy="1442.9" rx="4.2" ry="2.1"/>
<ellipse cx="460.7" cy="1467.1" rx="1.8" ry="1.8"/>
<ellipse cx="477.6" cy="1465.8" rx="1.6" ry="1.6"/>
<ellipse cx="439.9" cy="1471.0" rx="1.6" ry="1.6"/>
<ellipse cx="511.5" cy="1452.0" rx="2.1" ry="2.1"/>
<ellipse cx="531.0" cy="1452.0" rx="2.1" ry="2.1"/>
<ellipse cx="537.5" cy="1440.3" rx="3.6" ry="2.1"/>
<ellipse cx="546.6" cy="1419.5" rx="1.3" ry="3.1"/>
<ellipse cx="557.0" cy="1418.2" rx="1.6" ry="2.6"/>
<ellipse cx="451.6" cy="1384.7" rx="5.2" ry="3.1"/>
<ellipse cx="489.7" cy="1385.1" rx="3.1" ry="1.7"/>
<ellipse cx="380.4" cy="1407.3" rx="5.2" ry="6.9"/>
<ellipse cx="404.7" cy="1400.3" rx="6.1" ry="4.3" transform="rotate(-30 404.7 1400.3)"/>
<ellipse cx="392.6" cy="1407.3" rx="6.9" ry="2.6"/>
<ellipse cx="376.9" cy="1416.8" rx="2.6" ry="2.6"/>
<ellipse cx="449.8" cy="1402.9" rx="3.1" ry="2.1"/>
<ellipse cx="461.5" cy="1416.3" rx="1.4" ry="1.4"/>
<ellipse cx="483.7" cy="1396.9" rx="1.4" ry="1.7"/>
<ellipse cx="482.8" cy="1424.6" rx="7.8" ry="3.8" transform="rotate(-15 482.8 1424.6)"/>
<ellipse cx="514.0" cy="1421.5" rx="10.4" ry="3.1"/>
<ellipse cx="524.4" cy="1431.6" rx="2.6" ry="7.8" transform="rotate(-15 524.4 1431.6)"/>
<ellipse cx="501.9" cy="1429.8" rx="2.1" ry="1.7"/>
<ellipse cx="451.2" cy="1442.8" rx="4.3" ry="2.1"/>
<ellipse cx="512.3" cy="1452.4" rx="3.1" ry="2.4"/>
<ellipse cx="505.4" cy="1466.3" rx="2.6" ry="3.5"/>
<ellipse cx="522.7" cy="1461.1" rx="3.5" ry="4.3"/>
<ellipse cx="461.1" cy="1466.6" rx="1.7" ry="2.1"/>
<ellipse cx="477.6" cy="1466.3" rx="1.7" ry="2.1"/>
<ellipse cx="372.6" cy="1433.3" rx="2.1" ry="3.1"/>
<ellipse cx="537.4" cy="1415.9" rx="2.6" ry="2.1"/>
<ellipse cx="556.4" cy="1419.4" rx="1.7" ry="3.1"/>
<ellipse cx="542.6" cy="1422.0" rx="1.0" ry="3.5"/>
<ellipse cx="482.9" cy="1423.4" rx="7.8" ry="4.3" transform="rotate(-15 482.9 1423.4)"/>
<ellipse cx="504.6" cy="1425.2" rx="5.2" ry="4.3"/>
<ellipse cx="516.8" cy="1422.6" rx="9.5" ry="3.1" transform="rotate(10 516.8 1422.6)"/>
<ellipse cx="522.3" cy="1437.3" rx="1.4" ry="6.1" transform="rotate(-15 522.3 1437.3)"/>
<ellipse cx="450.8" cy="1442.5" rx="4.3" ry="1.7"/>
<ellipse cx="539.3" cy="1417.4" rx="4.3" ry="5.2" transform="rotate(30 539.3 1417.4)"/>
<ellipse cx="556.7" cy="1419.1" rx="1.7" ry="3.1" transform="rotate(30 556.7 1419.1)"/>
<ellipse cx="551.5" cy="1439.0" rx="6.1" ry="5.2"/>
<ellipse cx="539.3" cy="1441.6" rx="3.5" ry="2.6"/>
<ellipse cx="511.6" cy="1452.1" rx="2.6" ry="2.6"/>
<ellipse cx="530.7" cy="1451.7" rx="5.2" ry="4.3"/>
<ellipse cx="522.0" cy="1463.3" rx="1.7" ry="4.3"/>
<ellipse cx="538.5" cy="1468.5" rx="3.5" ry="1.4"/>
<ellipse cx="461.2" cy="1466.8" rx="1.7" ry="2.1"/>
<ellipse cx="478.6" cy="1465.6" rx="1.7" ry="2.1"/>
<ellipse cx="439.5" cy="1471.1" rx="2.1" ry="2.1"/>
<ellipse cx="461.2" cy="1416.5" rx="1.0" ry="1.4"/>
<ellipse cx="450.0" cy="1403.5" rx="3.1" ry="1.7"/>
</g>
<line x1="146.0" y1="871.5" x2="857.0" y2="871.5" stroke="#1c1c1c" stroke-width="3" shape-rendering="crispEdges"/>
<line x1="146.0" y1="736.0" x2="857.0" y2="736.0" stroke="#1c1c1c" stroke-width="2" shape-rendering="crispEdges"/>
<line x1="146.0" y1="601.5" x2="857.0" y2="601.5" stroke="#1c1c1c" stroke-width="1" shape-rendering="crispEdges"/>
<line x1="146.0" y1="466.5" x2="857.0" y2="466.5" stroke="#1c1c1c" stroke-width="1" shape-rendering="crispEdges"/>
<line x1="146.0" y1="332.0" x2="857.0" y2="332.0" stroke="#1c1c1c" stroke-width="2" shape-rendering="crispEdges"/>
<line x1="146.0" y1="197.0" x2="857.0" y2="197.0" stroke="#1c1c1c" stroke-width="2" shape-rendering="crispEdges"/>
<line x1="146.0" y1="62.5" x2="857.0" y2="62.5" stroke="#1c1c1c" stroke-width="1" shape-rendering="crispEdges"/>
<line x1="155.0" y1="62.0" x2="155.0" y2="881.0" stroke="#1c1c1c" stroke-width="2" shape-rendering="crispEdges"/>
<line x1="435.5" y1="64.0" x2="435.5" y2="881.0" stroke="#1c1c1c" stroke-width="1" shape-rendering="crispEdges"/>
<line x1="575.5" y1="64.0" x2="575.5" y2="881.0" stroke="#1c1c1c" stroke-width="1" shape-rendering="crispEdges"/>
<line x1="856.5" y1="64.0" x2="856.5" y2="881.0" stroke="#1c1c1c" stroke-width="1" shape-rendering="crispEdges"/>
<line x1="295.5" y1="871.5" x2="295.5" y2="881.0" stroke="#1c1c1c" stroke-width="2" shape-rendering="crispEdges"/>
<line x1="716.5" y1="871.5" x2="716.5" y2="881.0" stroke="#1c1c1c" stroke-width="2" shape-rendering="crispEdges"/>
<line x1="716.5" y1="732.0" x2="716.5" y2="740.0" stroke="#1c1c1c" stroke-width="1" stroke-dasharray="1 2" shape-rendering="crispEdges"/>
<line x1="716.5" y1="597.5" x2="716.5" y2="605.5" stroke="#1c1c1c" stroke-width="1" stroke-dasharray="1 2" shape-rendering="crispEdges"/>
<line x1="716.5" y1="462.5" x2="716.5" y2="470.5" stroke="#1c1c1c" stroke-width="1" stroke-dasharray="1 2" shape-rendering="crispEdges"/>
<line x1="716.5" y1="328.0" x2="716.5" y2="336.0" stroke="#1c1c1c" stroke-width="1" stroke-dasharray="1 2" shape-rendering="crispEdges"/>
<line x1="716.5" y1="193.0" x2="716.5" y2="201.0" stroke="#1c1c1c" stroke-width="1" stroke-dasharray="1 2" shape-rendering="crispEdges"/>
<line x1="716.5" y1="64.0" x2="716.5" y2="67.0" stroke="#1c1c1c" stroke-width="1" stroke-dasharray="1 2" shape-rendering="crispEdges"/>
<line x1="295.5" y1="190.0" x2="295.5" y2="216.0" stroke="#1c1c1c" stroke-width="1" stroke-dasharray="2 2" shape-rendering="crispEdges"/>
<line x1="295.5" y1="299.0" x2="295.5" y2="342.0" stroke="#1c1c1c" stroke-width="1" stroke-dasharray="2 2" shape-rendering="crispEdges"/>
<line x1="295.5" y1="690.0" x2="295.5" y2="700.0" stroke="#1c1c1c" stroke-width="1" stroke-dasharray="2 2" shape-rendering="crispEdges"/>
<line x1="295.5" y1="728.0" x2="295.5" y2="742.0" stroke="#1c1c1c" stroke-width="1" stroke-dasharray="2 2" shape-rendering="crispEdges"/>
<line x1="295.5" y1="64.0" x2="295.5" y2="67.0" stroke="#1c1c1c" stroke-width="1" stroke-dasharray="2 2" shape-rendering="crispEdges"/>
<text x="125.8" y="879.7" font-size="28.3" text-anchor="end" >0</text>
<text x="125.8" y="744.2" font-size="28.3" text-anchor="end" >20</text>
<text x="125.8" y="609.7" font-size="28.3" text-anchor="end" >40</text>
<text x="125.8" y="474.7" font-size="28.3" text-anchor="end" >60</text>
<text x="125.8" y="340.2" font-size="28.3" text-anchor="end" >80</text>
<text x="125.8" y="205.2" font-size="28.3" text-anchor="end" >100</text>
<text x="125.8" y="70.7" font-size="28.3" text-anchor="end" >120</text>
<text x="154.7" y="932.0" font-size="31.5" text-anchor="middle" >0</text>
<text x="295.0" y="932.0" font-size="31.5" text-anchor="middle" >20</text>
<text x="435.2" y="932.0" font-size="31.5" text-anchor="middle" >40</text>
<text x="575.5" y="932.0" font-size="31.5" text-anchor="middle" >60</text>
<text x="715.7" y="932.0" font-size="31.5" text-anchor="middle" >80</text>
<text x="856.0" y="932.0" font-size="31.5" text-anchor="middle" >100</text>
<text x="505.5" y="996.2" font-size="34" text-anchor="middle" font-weight="bold" textLength="191.5" lengthAdjust="spacingAndGlyphs">Width (mm)</text>
<text transform="translate(73.3,466.6) rotate(-90)" font-size="36.3" text-anchor="middle" font-weight="bold" textLength="212" lengthAdjust="spacingAndGlyphs">Length (mm)</text>
<text x="57.5" y="996.8" font-size="50" text-anchor="start" font-weight="bold" >a</text>
<line x1="136.0" y1="1530.5" x2="864.0" y2="1530.5" stroke="#1c1c1c" stroke-width="3" shape-rendering="crispEdges"/>
<line x1="136.0" y1="1445.0" x2="864.0" y2="1445.0" stroke="#1c1c1c" stroke-width="2" shape-rendering="crispEdges"/>
<line x1="136.0" y1="1360.5" x2="864.0" y2="1360.5" stroke="#1c1c1c" stroke-width="1" shape-rendering="crispEdges"/>
<line x1="136.0" y1="1275.5" x2="864.0" y2="1275.5" stroke="#1c1c1c" stroke-width="1" shape-rendering="crispEdges"/>
<line x1="136.0" y1="1190.5" x2="864.0" y2="1190.5" stroke="#1c1c1c" stroke-width="1" shape-rendering="crispEdges"/>
<line x1="136.0" y1="1106.0" x2="864.0" y2="1106.0" stroke="#1c1c1c" stroke-width="2" shape-rendering="crispEdges"/>
<line x1="144.5" y1="1105.0" x2="144.5" y2="1540.0" stroke="#1c1c1c" stroke-width="3" shape-rendering="crispEdges"/>
<line x1="224.5" y1="1105.0" x2="224.5" y2="1540.0" stroke="#1c1c1c" stroke-width="1" shape-rendering="crispEdges"/>
<line x1="303.5" y1="1105.0" x2="303.5" y2="1540.0" stroke="#1c1c1c" stroke-width="1" shape-rendering="crispEdges"/>
<line x1="384.5" y1="1105.0" x2="384.5" y2="1540.0" stroke="#1c1c1c" stroke-width="1" shape-rendering="crispEdges"/>
<line x1="464.0" y1="1105.0" x2="464.0" y2="1540.0" stroke="#1c1c1c" stroke-width="2" shape-rendering="crispEdges"/>
<line x1="544.0" y1="1105.0" x2="544.0" y2="1540.0" stroke="#1c1c1c" stroke-width="2" shape-rendering="crispEdges"/>
<line x1="624.0" y1="1105.0" x2="624.0" y2="1540.0" stroke="#1c1c1c" stroke-width="2" shape-rendering="crispEdges"/>
<line x1="704.0" y1="1105.0" x2="704.0" y2="1540.0" stroke="#1c1c1c" stroke-width="2" shape-rendering="crispEdges"/>
<line x1="784.0" y1="1105.0" x2="784.0" y2="1540.0" stroke="#1c1c1c" stroke-width="2" shape-rendering="crispEdges"/>
<line x1="863.5" y1="1105.0" x2="863.5" y2="1540.0" stroke="#1c1c1c" stroke-width="1" shape-rendering="crispEdges"/>
<text x="114.3" y="1538.7" font-size="27.8" text-anchor="end" >0</text>
<text x="114.3" y="1453.2" font-size="27.8" text-anchor="end" >5</text>
<text x="114.3" y="1368.7" font-size="27.8" text-anchor="end" >10</text>
<text x="114.3" y="1283.7" font-size="27.8" text-anchor="end" >15</text>
<text x="114.3" y="1198.7" font-size="27.8" text-anchor="end" >20</text>
<text x="114.3" y="1114.2" font-size="27.8" text-anchor="end" >25</text>
<text x="145.2" y="1590.0" font-size="30.8" text-anchor="middle" >0</text>
<text x="225.1" y="1590.0" font-size="30.8" text-anchor="middle" >5</text>
<text x="304.9" y="1590.0" font-size="30.8" text-anchor="middle" >10</text>
<text x="384.8" y="1590.0" font-size="30.8" text-anchor="middle" >15</text>
<text x="464.6" y="1590.0" font-size="30.8" text-anchor="middle" >20</text>
<text x="544.5" y="1590.0" font-size="30.8" text-anchor="middle" >25</text>
<text x="624.4" y="1590.0" font-size="30.8" text-anchor="middle" >30</text>
<text x="704.2" y="1590.0" font-size="30.8" text-anchor="middle" >35</text>
<text x="784.1" y="1590.0" font-size="30.8" text-anchor="middle" >40</text>
<text x="863.9" y="1590.0" font-size="30.8" text-anchor="middle" >45</text>
<text x="504.1" y="1655.1" font-size="34" text-anchor="middle" font-weight="bold" textLength="190.5" lengthAdjust="spacingAndGlyphs">Width (mm)</text>
<text transform="translate(63.3,1327.2) rotate(-90)" font-size="35.8" text-anchor="middle" font-weight="bold" textLength="265" lengthAdjust="spacingAndGlyphs">Thickness (mm)</text>
<text x="67.2" y="1672.6" font-size="48.5" text-anchor="start" font-weight="bold" >b</text>
</svg></body></html>
